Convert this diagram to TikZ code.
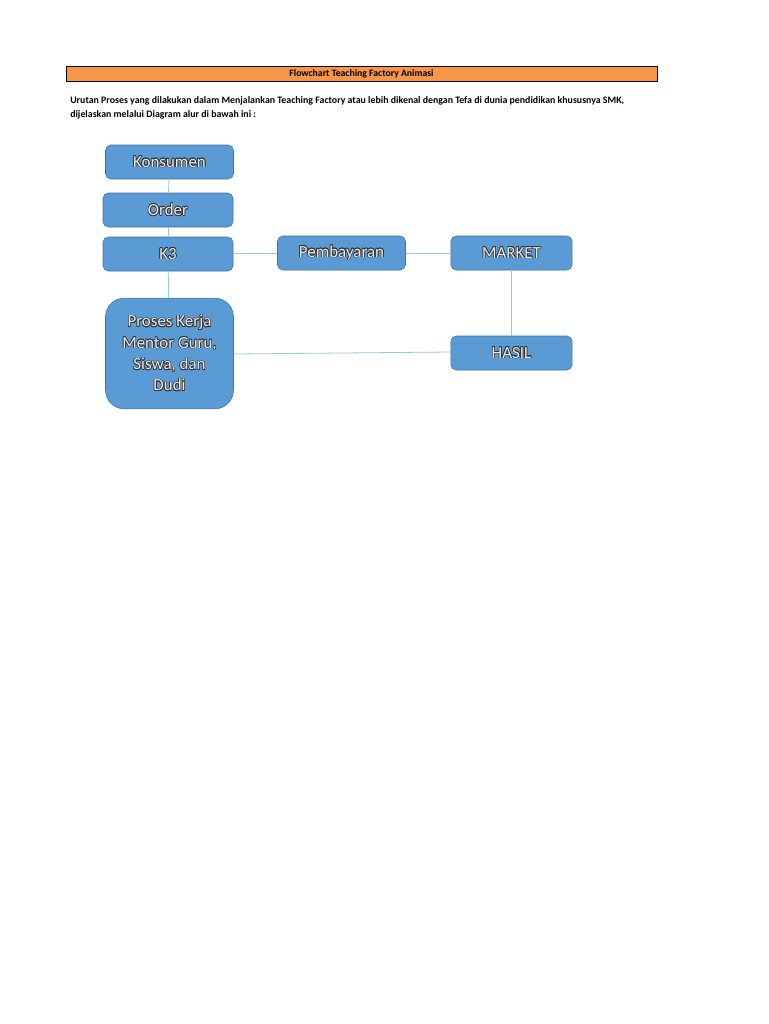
\documentclass[tikz,border=0pt]{standalone}
\usepackage{fontspec}
\setmainfont{Carlito}
\usepackage{xcolor}
\usepackage[copies]{contour}
\usepackage{tikz}
\usetikzlibrary{positioning}

\definecolor{barorange}{HTML}{F79646}
\definecolor{boxblue}{HTML}{5B9BD5}
\definecolor{boxline}{HTML}{41719C}
\definecolor{linkblue}{HTML}{9DC3E6}

\contourlength{0.45pt}
\newcommand{\boxtext}[1]{\contour{black!80}{\textcolor{white!92!black}{#1}}}

\begin{document}
\begin{tikzpicture}[x=0.75pt, y=-0.75pt,
    flowbox/.style={draw=boxline, fill=boxblue, rounded corners=4pt, minimum width=96pt, minimum height=25.5pt, inner sep=0pt, font=\fontsize{12.7}{14}\selectfont},
    link/.style={draw=linkblue, line width=0.6pt}]
        \useasboundingbox (0,0) rectangle (768,1024);
        % title bar and intro text
        \node[draw=black, fill=barorange, minimum width=443pt, minimum height=11.5pt, inner sep=0pt, font=\bfseries\fontsize{7.3}{8}\selectfont] (title) at (361.5,73.5) {Flowchart Teaching Factory Animasi};
        \node[anchor=north west, align=left, inner sep=0pt, font=\bfseries\fontsize{7.4}{10.5}\selectfont] (intro) at (70,96) {Urutan Proses yang dilakukan dalam Menjalankan Teaching Factory atau lebih dikenal dengan Tefa di dunia pendidikan khususnya SMK,\\dijelaskan melalui Diagram alur di bawah ini :};
        % boxes
        \node[flowbox] (konsumen) at (169.5,162) {\boxtext{Konsumen}};
        \node[flowbox, minimum width=97.5pt] (order) at (168,210) {\boxtext{Order}};
        \node[flowbox, minimum width=97.5pt] (k3) at (168,254) {\boxtext{K3}};
        \node[flowbox] (bayar) at (341.5,253) {\boxtext{Pembayaran}};
        \node[flowbox, minimum width=91pt] (market) at (511.5,253) {\boxtext{MARKET}};
        \node[flowbox, minimum width=91pt] (hasil) at (511.5,353) {\boxtext{HASIL}};
        \node[flowbox, minimum height=83pt, rounded corners=14pt, align=center, font=\fontsize{12.7}{16}\selectfont] (proses) at (169.5,353.5) {\boxtext{Proses Kerja}\\\boxtext{Mentor Guru,}\\\boxtext{Siswa, dan}\\\boxtext{Dudi}};
        % connectors
        \draw[link] (konsumen) -- (order);
        \draw[link] (order) -- (k3);
        \draw[link] (k3) -- (proses);
        \draw[link] (k3) -- (bayar);
        \draw[link] (bayar) -- (market);
        \draw[link] (market) -- (hasil);
        \draw[link] (proses.east |- 0,354) -- (hasil.west |- 0,352);
    \end{tikzpicture}
\end{document}
